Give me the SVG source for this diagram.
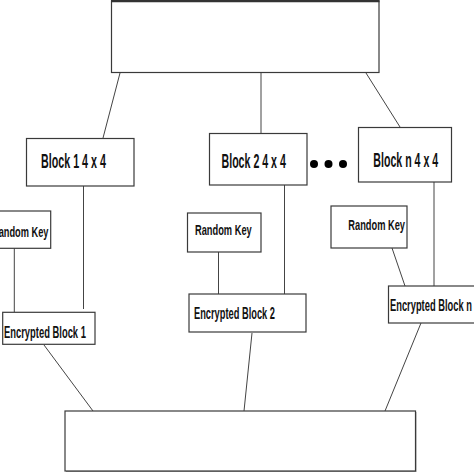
<svg xmlns="http://www.w3.org/2000/svg" width="474" height="474" viewBox="0 0 474 474">
<style>
.box{fill:#fff;stroke:#3a3a3a;stroke-width:1.2}
.ln{stroke:#444;stroke-width:1;fill:none}
text{font-family:"Liberation Sans",Arial,sans-serif;fill:#111;font-weight:bold}
.b{font-size:20px}
.k{font-size:15.5px}
.e{font-size:17px}
</style>
<rect width="474" height="474" fill="#fff"/>
<g id="connectors">
<line class="ln" x1="120" y1="73" x2="103" y2="138"/>
<line class="ln" x1="261" y1="73" x2="261" y2="133"/>
<line class="ln" x1="366" y1="73" x2="400" y2="127"/>
<line class="ln" x1="83.5" y1="186" x2="83.5" y2="309"/>
<line class="ln" x1="14.3" y1="248" x2="14.3" y2="312"/>
<line class="ln" x1="284.5" y1="185" x2="284.5" y2="294"/>
<line class="ln" x1="218.5" y1="252" x2="218.5" y2="294"/>
<line class="ln" x1="434" y1="182" x2="434" y2="286"/>
<line class="ln" x1="392" y1="248" x2="405" y2="286"/>
<line class="ln" x1="44" y1="345" x2="93" y2="411"/>
<line class="ln" x1="252" y1="333" x2="244" y2="411"/>
<line class="ln" x1="421" y1="323" x2="385" y2="411"/>
</g>
<g id="top">
<rect class="box" x="111.5" y="1" width="267.5" height="71.5"/>
<line x1="111" y1="1" x2="379.5" y2="1" stroke="#333" stroke-width="2.5"/>
</g>
<g id="block1">
<rect class="box" x="26.5" y="138.5" width="107.5" height="47.5"/>
<text class="b" transform="translate(41,167.8) scale(0.536,1)">Block 1 4 x 4</text>
</g>
<g id="block2">
<rect class="box" x="209.5" y="133.5" width="97.5" height="51.5"/>
<text class="b" transform="translate(221.5,168.3) scale(0.532,1)">Block 2 4 x 4</text>
</g>
<g id="dots" fill="#000">
<circle cx="314" cy="164" r="4"/>
<circle cx="328.5" cy="164" r="4"/>
<circle cx="343" cy="164" r="4"/>
</g>
<g id="blockn">
<rect class="box" x="358.5" y="127.5" width="93" height="54.5"/>
<text class="b" transform="translate(373.3,167) scale(0.531,1)">Block n 4 x 4</text>
</g>
<g id="key1">
<rect class="box" x="-10" y="211" width="60.7" height="37.3"/>
<text class="k" transform="translate(-8,236.5) scale(0.597,1)">Random Key</text>
</g>
<g id="key2">
<rect class="box" x="187.5" y="213" width="73.5" height="39"/>
<text class="k" transform="translate(195,235.3) scale(0.599,1)">Random Key</text>
</g>
<g id="keyn">
<rect class="box" x="331" y="206" width="76" height="42"/>
<text class="k" transform="translate(348.3,230) scale(0.599,1)">Random Key</text>
</g>
<g id="enc1">
<rect class="box" x="2.7" y="312.3" width="92.3" height="32"/>
<text class="e" transform="translate(4,337.8) scale(0.553,1)">Encrypted Block 1</text>
</g>
<g id="enc2">
<rect class="box" x="189" y="294" width="117" height="38"/>
<text class="e" transform="translate(194,319) scale(0.546,1)">Encrypted Block 2</text>
</g>
<g id="encn">
<rect class="box" x="388.5" y="286" width="90" height="37"/>
<text class="e" transform="translate(390,310.5) scale(0.549,1)">Encrypted Block n</text>
</g>
<g id="bottom">
<rect x="66" y="412" width="350.5" height="60" fill="#999"/>
<rect class="box" x="65" y="411" width="350.5" height="60"/>
</g>
</svg>
